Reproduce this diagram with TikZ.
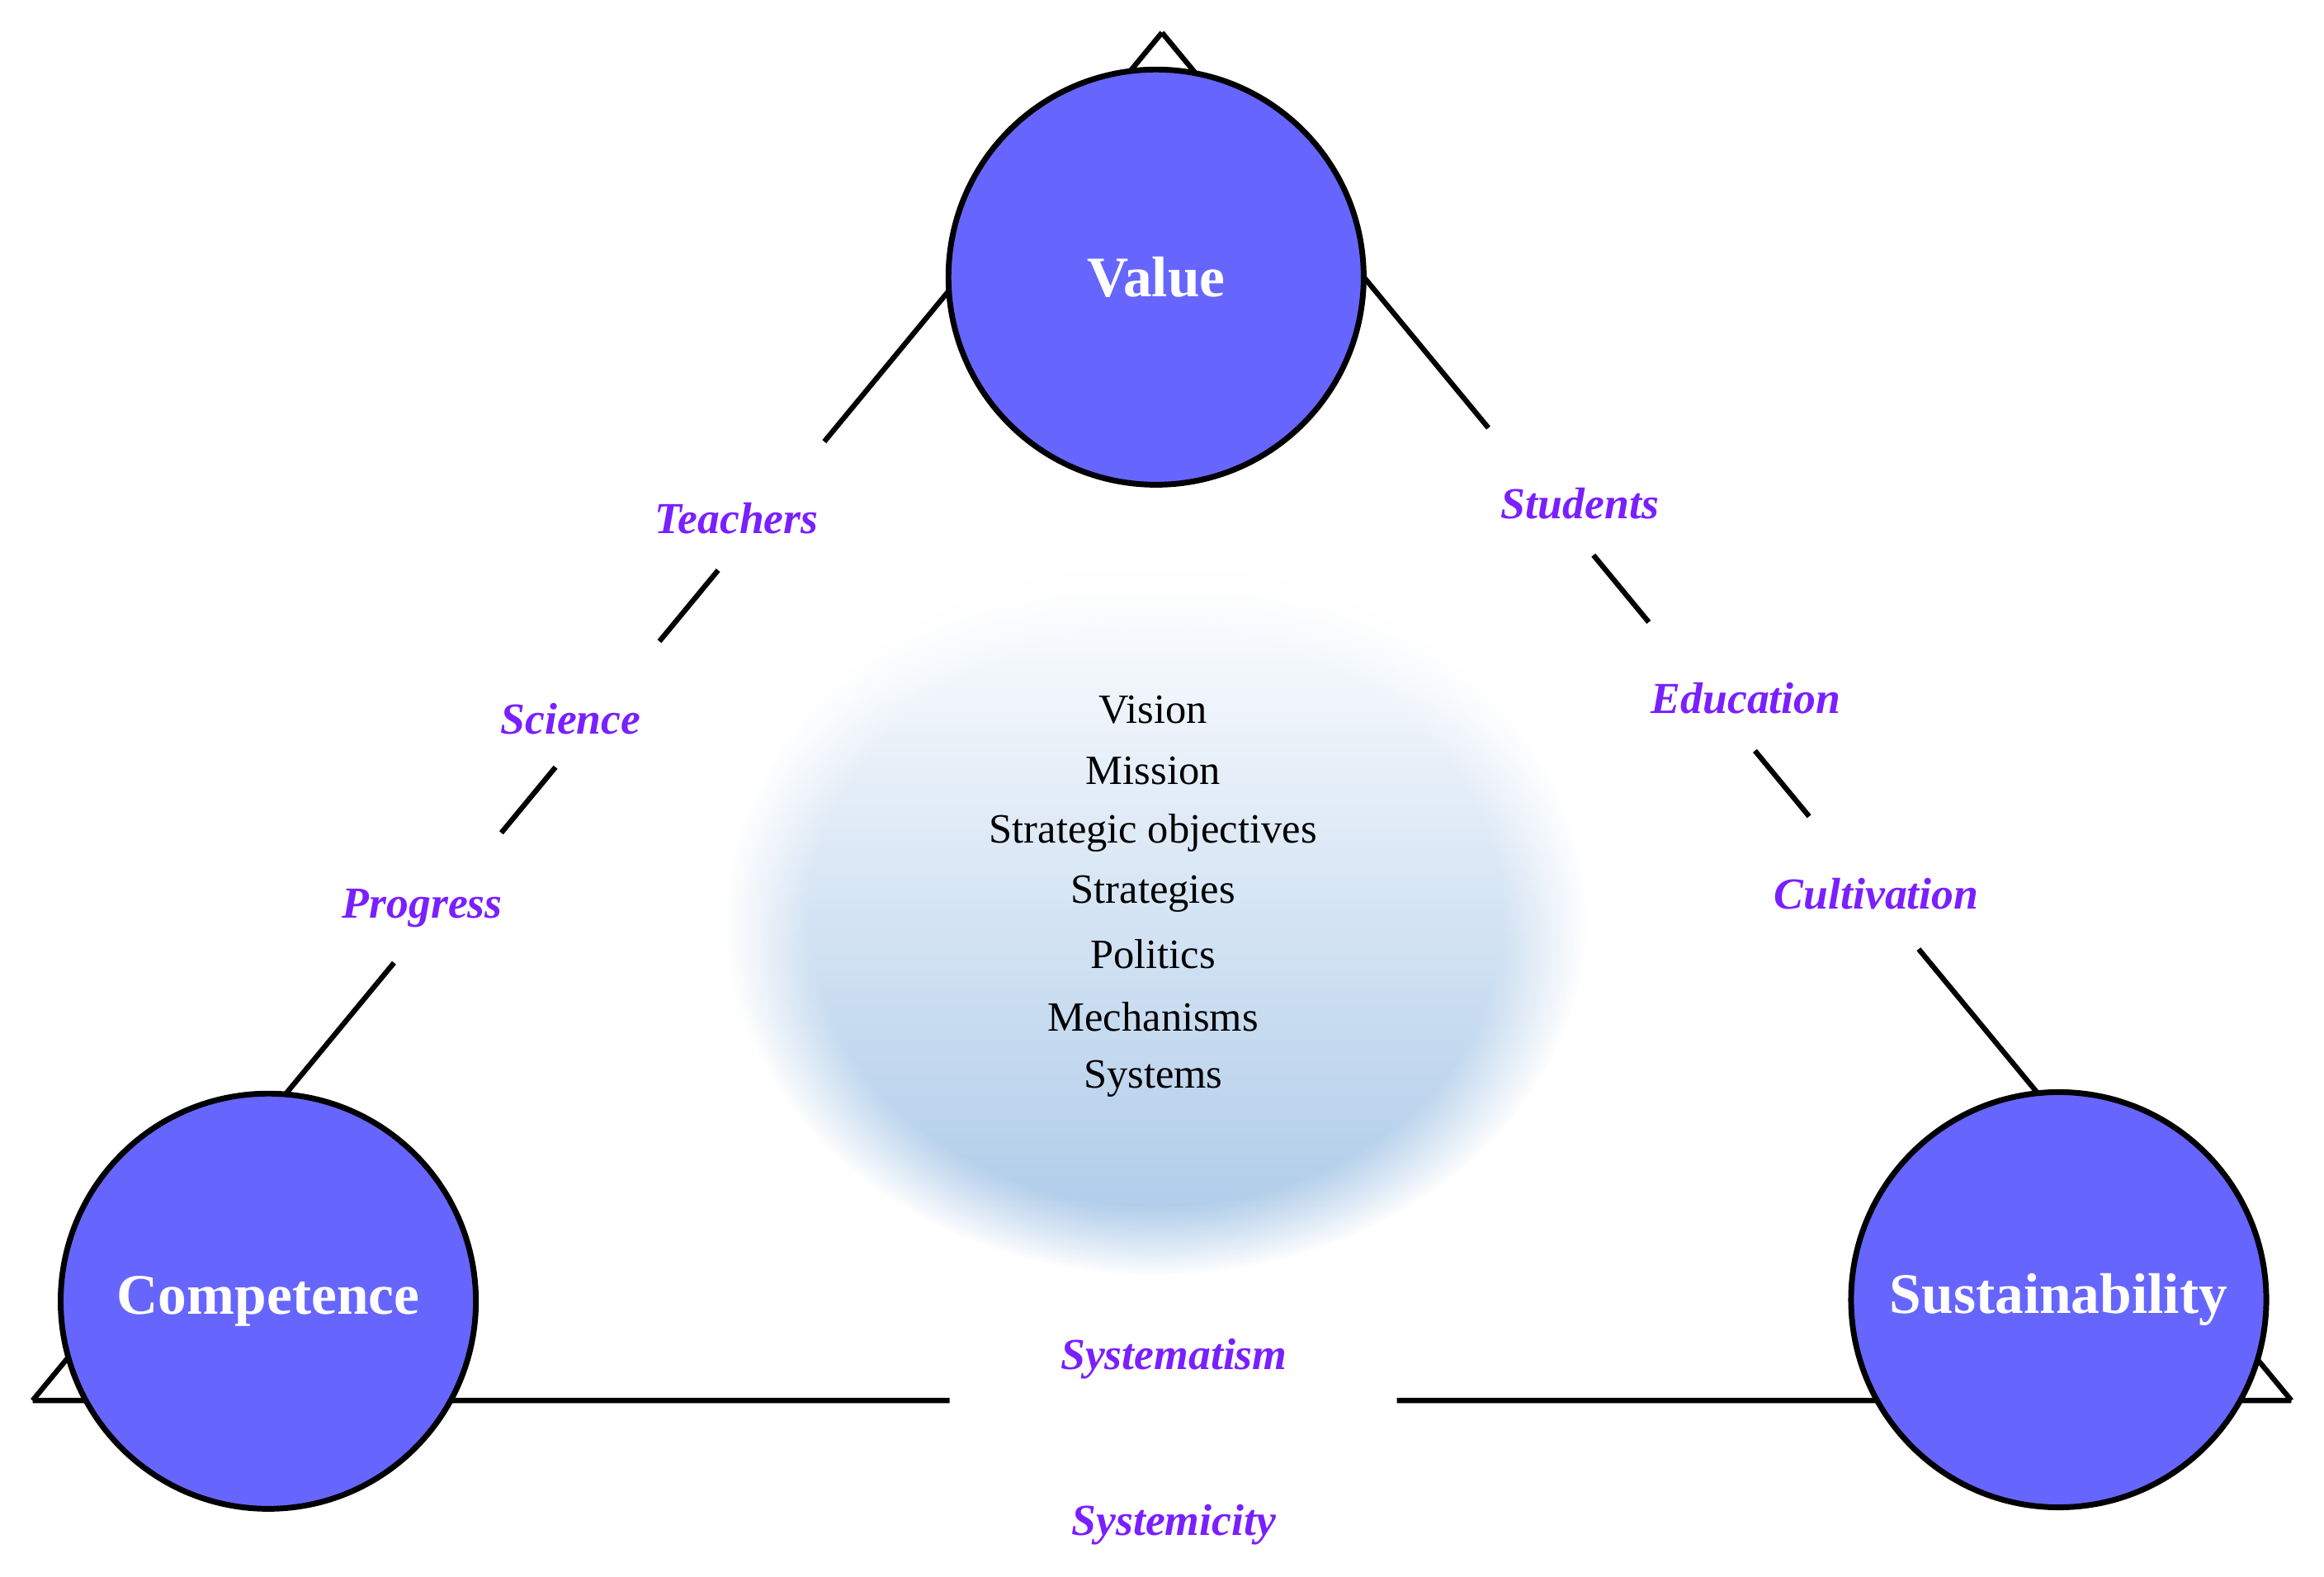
\documentclass[tikz,border=0pt]{standalone}
\usepackage{fontspec}
\setmainfont{Liberation Serif}
\usetikzlibrary{calc,fadings}
\definecolor{cfill}{HTML}{6666FF}
\definecolor{lab}{HTML}{7A1FFF}
\definecolor{glow}{HTML}{A9C8E8}
\begin{document}
\begin{tikzpicture}[x=0.01cm,y=-0.01cm,
  circ/.style={circle,draw=black,line width=1.1pt,fill=cfill,minimum size=2.8cm,inner sep=0pt,text=white,font=\bfseries\fontsize{11}{13}\selectfont},
  lab/.style={text=lab,font=\bfseries\itshape\fontsize{8.5}{10}\selectfont},
  item/.style={font=\fontsize{8}{9.5}\selectfont},
  edge/.style={line width=1pt}]
\useasboundingbox (0,0) rectangle (1568,1064);
\fill[white] (0,0) rectangle (1568,1064);
\shade[top color=white,bottom color=glow,path fading=circle with fuzzy edge 20 percent]
  (780,620) ellipse [x radius=290,y radius=240];
\coordinate (A) at (784,22);
\coordinate (B) at (22,945);
\coordinate (C) at (1546,945);
\draw[edge] (A) -- ($(A)!.299!(B)$);
\draw[edge] ($(A)!.393!(B)$) -- ($(A)!.445!(B)$);
\draw[edge] ($(A)!.537!(B)$) -- ($(A)!.585!(B)$);
\draw[edge] ($(A)!.680!(B)$) -- (B);
\draw[edge] (A) -- ($(A)!.289!(C)$);
\draw[edge] ($(A)!.382!(C)$) -- ($(A)!.431!(C)$);
\draw[edge] ($(A)!.525!(C)$) -- ($(A)!.573!(C)$);
\draw[edge] ($(A)!.670!(C)$) -- (C);
\draw[edge] (B) -- ($(B)!.406!(C)$);
\draw[edge] ($(B)!.604!(C)$) -- (C);
\node[circ] (val) at (780,187) {Value};
\node[circ] (comp) at (181,878) {Competence};
\node[circ] (sus) at (1389,877) {Sustainability};
\node[lab] (t1) at (497,350) {Teachers};
\node[lab] (t2) at (385,485) {Science};
\node[lab] (t3) at (285,613) {Progress};
\node[lab] (t4) at (1066,340) {Students};
\node[lab] (t5) at (1178,471) {Education};
\node[lab] (t6) at (1266,603) {Cultivation};
\node[lab] (t7) at (792,917) {Systematism};
\node[lab] (t8) at (792,1029) {Systemicity};
\node[item] (i1) at (778,479) {Vision};
\node[item] (i2) at (778,520) {Mission};
\node[item] (i3) at (778,562) {Strategic objectives};
\node[item] (i4) at (778,603) {Strategies};
\node[item] (i5) at (778,644) {Politics};
\node[item] (i6) at (778,686) {Mechanisms};
\node[item] (i7) at (778,728) {Systems};
\end{tikzpicture}
\end{document}
